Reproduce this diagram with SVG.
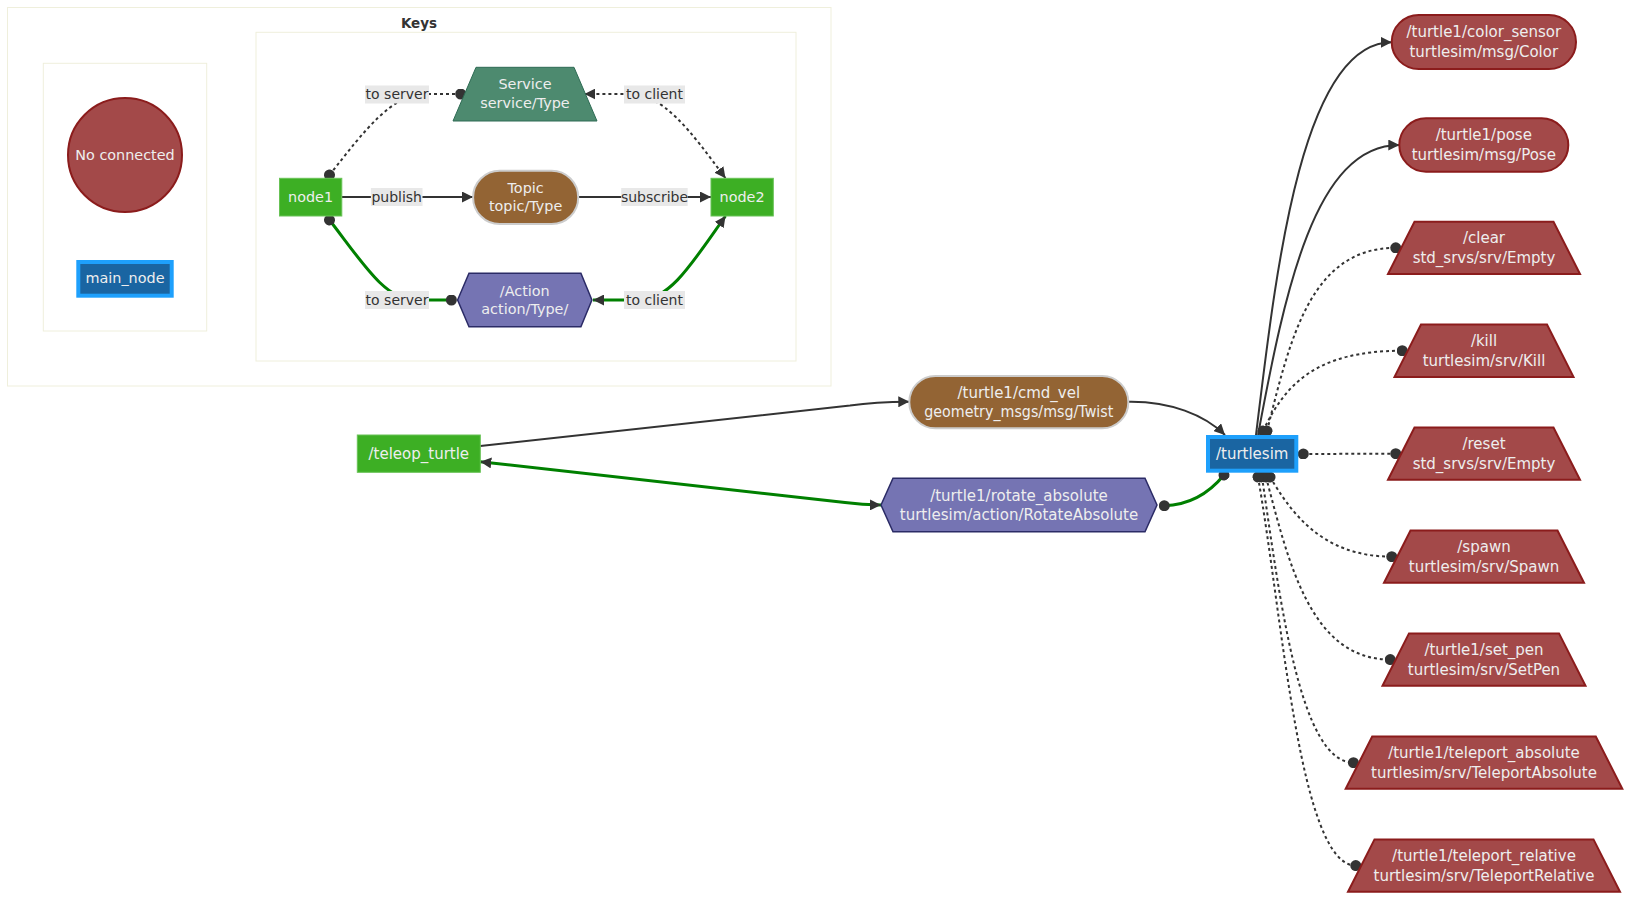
<svg xmlns="http://www.w3.org/2000/svg" width="1629" height="900" viewBox="0 0 1629 900">
<defs>
<marker id="arrow" viewBox="0 0 10 10" refX="10" refY="5" markerWidth="11" markerHeight="11" markerUnits="userSpaceOnUse" orient="auto-start-reverse">
<path d="M0,0 L10,5 L0,10 z" fill="#333333"/>
</marker>
<marker id="dot" viewBox="0 0 10 10" refX="5" refY="5" markerWidth="11" markerHeight="11" markerUnits="userSpaceOnUse" orient="auto">
<circle cx="5" cy="5" r="5" fill="#333333"/>
</marker>
</defs>
<style>
text{font-family:"DejaVu Sans",Verdana,sans-serif;text-anchor:middle}
.cluster{fill:#ffffff;stroke:#efefdc;stroke-width:1}
.title{font-size:13.5px;font-weight:bold;fill:#333333}
.nt{fill:#eeeeee;font-size:15px}
.kt{fill:#eeeeee;font-size:14.4px}
.el{fill:#333333;font-size:14px}
.elbg{fill:#e8e8e8}
.green{fill:#3daf24;stroke:#68c256;stroke-width:1}
.red{fill:#a34949;stroke:#8b1c1c;stroke-width:2}
.topic{fill:#936434;stroke:#cccccc;stroke-width:2}
.action{fill:#7574b3;stroke:#2b2b66;stroke-width:1.5}
.service{fill:#4d8a6f;stroke:#2e6b54;stroke-width:1}
.main{fill:#1a65a2;stroke:#1ea0fc;stroke-width:4}
.solid{fill:none;stroke:#333333;stroke-width:2}
.dotted{fill:none;stroke:#333333;stroke-width:2;stroke-dasharray:3 3}
.act{fill:none;stroke:#008000;stroke-width:3}
</style>

<g id="keys">
<rect class="cluster" x="7.5" y="7.5" width="823.5" height="378.5"/>
<text class="title" x="419" y="27.5">Keys</text>
<rect class="cluster" x="43.3" y="63.3" width="163.4" height="267.7"/>
<rect class="cluster" x="256" y="32.3" width="540" height="328.7"/>
</g>

<g id="connectors">
<path class="dotted" d="M329.5,175 C365,130 392,94 425,94 L460.7,94" marker-start="url(#dot)" marker-end="url(#dot)"/>
<path class="dotted" d="M584.4,94 L630,94 C663,94 690,130 725.5,178.3" marker-start="url(#arrow)" marker-end="url(#arrow)"/>
<path class="solid" d="M341.8,197 L473,197" marker-end="url(#arrow)"/>
<path class="solid" d="M578.2,197 L711,197" marker-end="url(#arrow)"/>
<path class="act" d="M329.5,220 C362,262 385,300 415,300 L451.4,300" marker-start="url(#dot)" marker-end="url(#dot)"/>
<path class="act" d="M593,300 L640,300 C670,300 693,262 725.5,216" marker-start="url(#arrow)" marker-end="url(#arrow)"/>

<path class="solid" d="M480.3,446 L850,405.5 Q875,402 909.3,401.7" marker-end="url(#arrow)"/>
<path class="solid" d="M1128.3,401.7 C1170,401 1205,415 1225,435" marker-end="url(#arrow)"/>
<path class="act" d="M480.3,461.7 L845,502.5 Q862,504.8 881,505" marker-start="url(#arrow)" marker-end="url(#arrow)"/>
<path class="act" d="M1164.3,505.7 C1190,505 1210,492 1224,475" marker-start="url(#dot)" marker-end="url(#dot)"/>

<path class="solid" d="M1256,435 C1275,280 1300,42.3 1391.7,42.3" marker-end="url(#arrow)"/>
<path class="solid" d="M1258,435 C1285,290 1315,145 1399.3,145" marker-end="url(#arrow)"/>
<path class="dotted" d="M1267,431 C1290,340 1310,247.85 1395.75,247.85" marker-start="url(#dot)" marker-end="url(#dot)"/>
<path class="dotted" d="M1263,431 C1285,385 1315,350.75 1402.25,350.75" marker-start="url(#dot)" marker-end="url(#dot)"/>
<path class="dotted" d="M1303.3,454 L1395.75,453.65" marker-start="url(#dot)" marker-end="url(#dot)"/>
<path class="dotted" d="M1270,477 C1290,510 1320,556.65 1391.75,556.65" marker-start="url(#dot)" marker-end="url(#dot)"/>
<path class="dotted" d="M1266,477 C1288,560 1310,659.55 1390.25,659.55" marker-start="url(#dot)" marker-end="url(#dot)"/>
<path class="dotted" d="M1262,477 C1280,600 1300,762.65 1353.45,762.65" marker-start="url(#dot)" marker-end="url(#dot)"/>
<path class="dotted" d="M1258,477 C1283,620 1300,865.55 1355.75,865.55" marker-start="url(#dot)" marker-end="url(#dot)"/>

<g id="edge-labels">
<rect class="elbg" x="365" y="85.5" width="64" height="18"/>
<text class="el" x="397" y="99.3">to server</text>
<rect class="elbg" x="624" y="85.5" width="61" height="18"/>
<text class="el" x="654.5" y="99.3">to client</text>
<rect class="elbg" x="370.9" y="188" width="51.6" height="18"/>
<text class="el" x="396.7" y="202">publish</text>
<rect class="elbg" x="621.2" y="188" width="66.5" height="18"/>
<text class="el" x="654.5" y="202">subscribe</text>
<rect class="elbg" x="365" y="291" width="64" height="18"/>
<text class="el" x="397" y="304.8">to server</text>
<rect class="elbg" x="624" y="291" width="61" height="18"/>
<text class="el" x="654.5" y="304.8">to client</text>
</g>
</g>

<g id="key-no-connected">
<circle class="red" cx="125" cy="155" r="57"/>
<text class="kt" x="125" y="160">No connected</text>
</g>
<g id="key-main-node">
<rect class="main" x="78.3" y="262" width="93.4" height="33.7"/>
<text class="kt" x="125" y="283.3">main_node</text>
</g>
<g id="key-node1">
<rect class="green" x="279.5" y="178.3" width="62.3" height="37.7"/>
<text class="kt" x="310.6" y="202">node1</text>
</g>
<g id="key-node2">
<rect class="green" x="711" y="178.3" width="62.3" height="37.7"/>
<text class="kt" x="742.1" y="202">node2</text>
</g>
<g id="key-service">
<polygon class="service" points="476,67.3 574,67.3 597,121 453,121"/>
<text class="kt" x="525" y="89.3">Service</text>
<text class="kt" x="525" y="108.3">service/Type</text>
</g>
<g id="key-topic">
<rect class="topic" x="473.1" y="170.7" width="105.1" height="53.3" rx="26.6"/>
<text class="kt" x="525.6" y="192.7">Topic</text>
<text class="kt" x="525.6" y="211.3">topic/Type</text>
</g>
<g id="key-action">
<polygon class="action" points="457.6,300 469,273.3 580.9,273.3 591.9,300 580.9,326.7 469,326.7"/>
<text class="kt" x="524.8" y="295.7">/Action</text>
<text class="kt" x="524.8" y="314.3">action/Type/</text>
</g>

<g id="teleop_turtle">
<rect class="green" x="357.3" y="435" width="123" height="37.3"/>
<text class="nt" x="418.8" y="459">/teleop_turtle</text>
</g>
<g id="cmd_vel">
<rect class="topic" x="909.3" y="376" width="219" height="52.3" rx="26.1"/>
<text class="nt" x="1018.8" y="397.7">/turtle1/cmd_vel</text>
<text class="nt" x="1018.8" y="416.7" textLength="189" lengthAdjust="spacingAndGlyphs">geometry_msgs/msg/Twist</text>
</g>
<g id="rotate_absolute">
<polygon class="action" points="881,505 893,478.3 1145,478.3 1157,505 1145,531.7 893,531.7"/>
<text class="nt" x="1019" y="500.7">/turtle1/rotate_absolute</text>
<text class="nt" x="1019" y="519.7">turtlesim/action/RotateAbsolute</text>
</g>
<g id="turtlesim">
<rect class="main" x="1208" y="437" width="88.3" height="33.7"/>
<text class="nt" x="1252.2" y="459">/turtlesim</text>
</g>
<g id="color_sensor">
<rect class="red" x="1391.7" y="15" width="184.3" height="54" rx="27"/>
<text class="nt" x="1483.8" y="37.3">/turtle1/color_sensor</text>
<text class="nt" x="1483.8" y="56.7">turtlesim/msg/Color</text>
</g>
<g id="pose">
<rect class="red" x="1399.3" y="118.3" width="169" height="53.4" rx="26.7"/>
<text class="nt" x="1483.8" y="140.3">/turtle1/pose</text>
<text class="nt" x="1483.8" y="159.7">turtlesim/msg/Pose</text>
</g>
<g id="clear">
<polygon class="red" points="1414.5,221.7 1553.5,221.7 1580,274 1388,274"/>
<text class="nt" x="1484" y="243.3">/clear</text>
<text class="nt" x="1484" y="262.8">std_srvs/srv/Empty</text>
</g>
<g id="kill">
<polygon class="red" points="1421,324.6 1547,324.6 1573.5,376.9 1394.5,376.9"/>
<text class="nt" x="1484" y="346.2">/kill</text>
<text class="nt" x="1484" y="365.7">turtlesim/srv/Kill</text>
</g>
<g id="reset">
<polygon class="red" points="1414.5,427.5 1553.5,427.5 1580,479.8 1388,479.8"/>
<text class="nt" x="1484" y="449.2">/reset</text>
<text class="nt" x="1484" y="468.7">std_srvs/srv/Empty</text>
</g>
<g id="spawn">
<polygon class="red" points="1410.5,530.5 1557.5,530.5 1584,582.8 1384,582.8"/>
<text class="nt" x="1484" y="552.2">/spawn</text>
<text class="nt" x="1484" y="571.7">turtlesim/srv/Spawn</text>
</g>
<g id="set_pen">
<polygon class="red" points="1409,633.4 1559,633.4 1585.5,685.7 1382.5,685.7"/>
<text class="nt" x="1484" y="655.1">/turtle1/set_pen</text>
<text class="nt" x="1484" y="674.6">turtlesim/srv/SetPen</text>
</g>
<g id="teleport_absolute">
<polygon class="red" points="1372.2,736.5 1595.8,736.5 1622.3,788.8 1345.7,788.8"/>
<text class="nt" x="1484" y="758.2">/turtle1/teleport_absolute</text>
<text class="nt" x="1484" y="777.7">turtlesim/srv/TeleportAbsolute</text>
</g>
<g id="teleport_relative">
<polygon class="red" points="1374.5,839.4 1593.5,839.4 1620,891.7 1348,891.7"/>
<text class="nt" x="1484" y="861.1">/turtle1/teleport_relative</text>
<text class="nt" x="1484" y="880.6">turtlesim/srv/TeleportRelative</text>
</g>
</svg>
